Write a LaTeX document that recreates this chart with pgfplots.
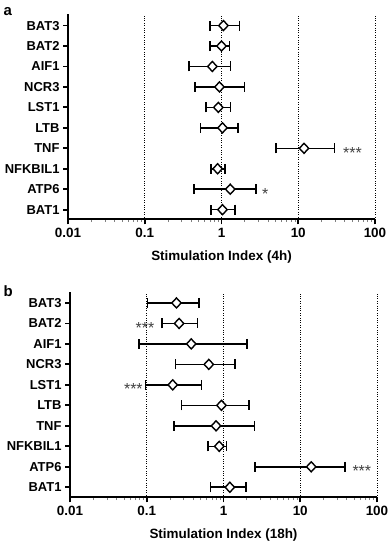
\documentclass[border=0pt]{standalone}
\usepackage{pgfplots}
\pgfplotsset{compat=1.18}
\usepackage{fontspec}
\setmainfont{Liberation Sans}
\pgfplotsset{
  panel/.style={
    scale only axis, width=307bp, height=205bp,
    xmin=0.01, xmax=100,
    axis x line*=bottom, axis y line*=left,
    axis line style={-, line width=2bp},
    xtick={0.01,0.1,1,10,100},
    xticklabels={0.01,0.1,1,10,100},
    minor xtick={},
    ytick={1,...,10},
    yticklabels={BAT1,ATP6,NFKBIL1,TNF,LTB,LST1,NCR3,AIF1,BAT2,BAT3},
    tick align=outside, major tick length=5bp,
    major tick style={line width=1.8bp, black},
    xmajorgrids, grid style={dotted, line width=0.9bp, black},
    yticklabel style={font=\bfseries\fontsize{13}{15}\selectfont},
    xticklabel style={font=\bfseries\fontsize{13.5}{15}\selectfont},
    xlabel style={font=\bfseries\fontsize{13.5}{16}\selectfont, yshift=-7bp},
    /pgf/number format/assume math mode=true,
    clip=false,
  },
  ser/.style={
    black, line width=1.6bp, only marks,
    mark=diamond*, mark size=5bp,
    mark options={fill=white, draw=black, line width=1.4bp, xscale=1.25},
    error bars/.cd, x dir=both, x explicit,
    error mark=|,
    error bar style={line width=1.6bp, black},
    error mark options={line width=1.6bp, mark size=5bp, black},
  },
}
\tikzset{stars/.style={font=\fontsize{16}{18}\selectfont, text=black!75, yshift=-4.5bp}}
\begin{document}
\begin{tikzpicture}
\path[use as bounding box] (0,0) rectangle (388bp,-541bp);
% Panel a
\begin{semilogxaxis}[panel, at={(68bp,-219.3bp)}, anchor=south west,
  ymin=0.53, ymax=10.55, xlabel={Stimulation Index (4h)}]
\addplot+[ser] table[x=x, y=y, x error plus=ep, x error minus=em] {
y x ep em
10 1.06 0.65 0.35
9 1.00 0.27 0.29
8 0.76 0.55 0.38
7 0.94 1.05 0.485
6 0.91 0.40 0.28
5 1.03 0.60 0.50
4 11.9 17.7 6.77
3 0.89 0.23 0.16
2 1.30 1.52 0.86
1 1.03 0.48 0.30
};
\node[stars] at (axis cs:50.8,4) {***};
\node[stars] at (axis cs:3.7,2) {*};
\end{semilogxaxis}
% Panel b
\begin{semilogxaxis}[panel, at={(70bp,-497.3bp)}, anchor=south west,
  ymin=0.51, ymax=10.52, xlabel={Stimulation Index (18h)}]
\addplot+[ser] table[x=x, y=y, x error plus=ep, x error minus=em] {
y x ep em
10 0.244 0.236 0.142
9 0.264 0.196 0.106
8 0.38 1.63 0.301
7 0.644 0.766 0.407
6 0.218 0.298 0.122
5 0.94 1.20 0.657
4 0.80 1.74 0.575
3 0.88 0.21 0.25
2 13.9 24.7 11.31
1 1.21 0.77 0.53
};
\node[stars] at (axis cs:0.095,9) {***};
\node[stars] at (axis cs:0.067,6) {***};
\node[stars] at (axis cs:63.5,2) {***};
\end{semilogxaxis}
\node[font=\bfseries\fontsize{15}{17}\selectfont, anchor=west] at (0bp,-12bp) {a};
\node[font=\bfseries\fontsize{15}{17}\selectfont, anchor=west] at (0bp,-291bp) {b};
\end{tikzpicture}
\end{document}
